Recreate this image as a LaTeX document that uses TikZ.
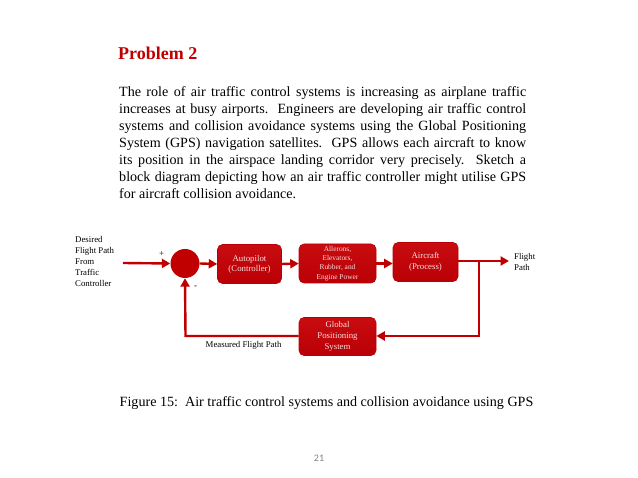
\documentclass[tikz,border=0pt]{standalone}
\usepackage{fontspec}
\setmainfont{Liberation Serif}
\newfontfamily\pagenumfont{Carlito}
\usetikzlibrary{arrows.meta}
\definecolor{dred}{RGB}{192,0,0}
\definecolor{boxtop}{RGB}{200,12,16}
\definecolor{boxbot}{RGB}{186,0,6}
\definecolor{boxtext}{RGB}{246,222,222}
\definecolor{pgray}{RGB}{130,130,130}
\tikzset{
  blk/.style={rounded corners=5pt, top color=boxtop, bottom color=boxbot, draw=boxbot, line width=0.6pt,
    text=boxtext, align=center, inner sep=0pt},
  conn/.style={draw=dred, line width=2.4pt, -{Triangle[length=8.5pt,width=9pt]}},
  lbl/.style={font=\fontsize{8.8}{11}\selectfont, inner sep=0pt},
  para/.style={anchor=base west, inner sep=0pt, font=\fontsize{14.1}{17}\selectfont},
}
\begin{document}
\begin{tikzpicture}[x=1pt,y=-1pt]
\useasboundingbox (0,0) rectangle (638,478);
% title
\node[anchor=base west, inner sep=0pt, text=dred, font=\fontsize{18}{22}\selectfont\bfseries] (title) at (118,59.3) {Problem 2};
% paragraph
\node[para] (p1) at (119,96.7) {\makebox[407pt][s]{The role of air traffic control systems is increasing as airplane traffic}};
\node[para] (p2) at (119,113.6) {\makebox[407pt][s]{increases at busy airports.\ \ Engineers are developing air traffic control}};
\node[para] (p3) at (119,130.6) {\makebox[407pt][s]{systems and collision avoidance systems using the Global Positioning}};
\node[para] (p4) at (119,147.5) {\makebox[407pt][s]{System (GPS) navigation satellites.\ \ GPS allows each aircraft to know}};
\node[para] (p5) at (119,164.4) {\makebox[407pt][s]{its position in the airspace landing corridor very precisely.\ \ Sketch a}};
\node[para] (p6) at (119,181.4) {\makebox[407pt][s]{block diagram depicting how an air traffic controller might utilise GPS}};
\node[para] (p7) at (119,198.3) {for aircraft collision avoidance.};
% diagram
\node[lbl, anchor=north west, align=left, font=\fontsize{8.8}{10.9}\selectfont] (desired) at (75,236.5) {Desired\\Flight Path\\From\\Traffic\\Controller};
\coordinate (in) at (123,263);
\node[circle, fill=dred, minimum size=29pt, inner sep=0pt] (sum) at (185,263.5) {};
\node[lbl] (plus) at (161.5,254.5) {+};
\node[lbl] (minus) at (195.5,287.5) {-};
\node[blk, minimum width=64pt, minimum height=39pt, font=\fontsize{8.8}{10.2}\selectfont] (auto) at (249.5,264) {Autopilot\\(Controller)};
\node[blk, minimum width=77pt, minimum height=39pt, font=\fontsize{7.4}{9.4}\selectfont] (act) at (337.5,263.5) {Allerons,\\Elevators,\\Rubber, and\\Engine Power};
\node[blk, minimum width=65pt, minimum height=39pt, font=\fontsize{8.8}{11}\selectfont] (plant) at (425.5,262) {Aircraft\\(Process)};
\node[blk, minimum width=77pt, minimum height=38pt, font=\fontsize{8.8}{11.2}\selectfont] (gps) at (337.5,336.5) {Global\\Positioning\\System};
\coordinate (br) at (479,261);
\coordinate (out) at (509,261);
\node[lbl, anchor=west, align=left, font=\fontsize{8.8}{10.8}\selectfont] (flight) at (514,262) {Flight\\Path};
\node[lbl, anchor=base west] (meas) at (205.5,347.5) {Measured Flight Path};
\coordinate (fbd) at (479,336);
\coordinate (fbl) at (185.5,336);
\draw[conn] (in) -- (sum.west);
\draw[conn] (sum.east) -- (auto.west);
\draw[conn] (auto.east) -- (act.west);
\draw[conn] (act.east) -- (plant.west |- act.east);
\draw[conn] (plant.east |- br) -- (out);
\draw[conn] (br) -- (fbd) -- (gps.east |- fbd);
\draw[conn] (gps.west |- fbd) -- (fbl) -- (sum.south);
% caption
\node[para] (cap) at (119.5,406.5) {Figure 15:\ \ Air traffic control systems and collision avoidance using GPS};
\node[inner sep=0pt, text=pgray, font=\pagenumfont\fontsize{10}{12}\selectfont] (pg) at (319,458) {21};
\end{tikzpicture}
\end{document}
